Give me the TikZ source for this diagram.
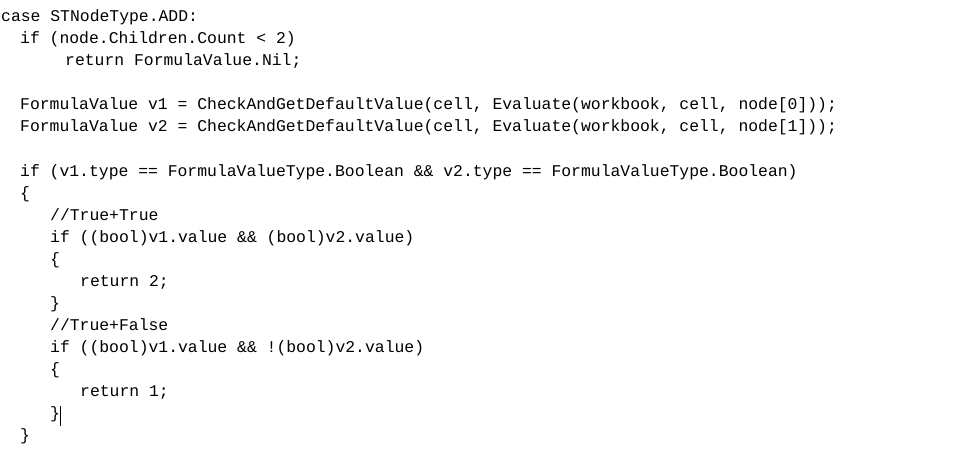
\documentclass[tikz,border=0pt]{standalone}
\usepackage{fontspec}
\setmonofont{Liberation Mono}
\begin{document}
\begin{tikzpicture}[x=1pt,y=-1pt,
  code/.style={anchor=mid west,inner sep=0pt,font=\ttfamily\fontsize{16.4}{20}\selectfont,text=black}]
\useasboundingbox[fill=white] (0,0) rectangle (966,468);
\node[code] (l1) at (1,19) {case STNodeType.ADD:};
\node[code] (l2) at (20,41) {if (node.Children.Count < 2)};
\node[code] (l3) at (65,63) {return FormulaValue.Nil;};
\node[code] (l4) at (20,107) {FormulaValue v1 = CheckAndGetDefaultValue(cell, Evaluate(workbook, cell, node[0]));};
\node[code] (l5) at (20,129) {FormulaValue v2 = CheckAndGetDefaultValue(cell, Evaluate(workbook, cell, node[1]));};
\node[code] (l6) at (20,174) {if (v1.type == FormulaValueType.Boolean \&\& v2.type == FormulaValueType.Boolean)};
\node[code] (l7) at (20,196) {\{};
\node[code] (l8) at (50,218) {//True+True};
\node[code] (l9) at (50,240) {if ((bool)v1.value \&\& (bool)v2.value)};
\node[code] (l10) at (50,262) {\{};
\node[code] (l11) at (80,284) {return 2;};
\node[code] (l12) at (50,306) {\}};
\node[code] (l13) at (50,328) {//True+False};
\node[code] (l14) at (50,350) {if ((bool)v1.value \&\& !(bool)v2.value)};
\node[code] (l15) at (50,372) {\{};
\node[code] (l16) at (80,394) {return 1;};
\node[code] (l17) at (50,416) {\}};
\node[code] (l18) at (20,438) {\}};
\draw[black,line width=1pt] (60,406) -- (60,426);
\end{tikzpicture}
\end{document}
